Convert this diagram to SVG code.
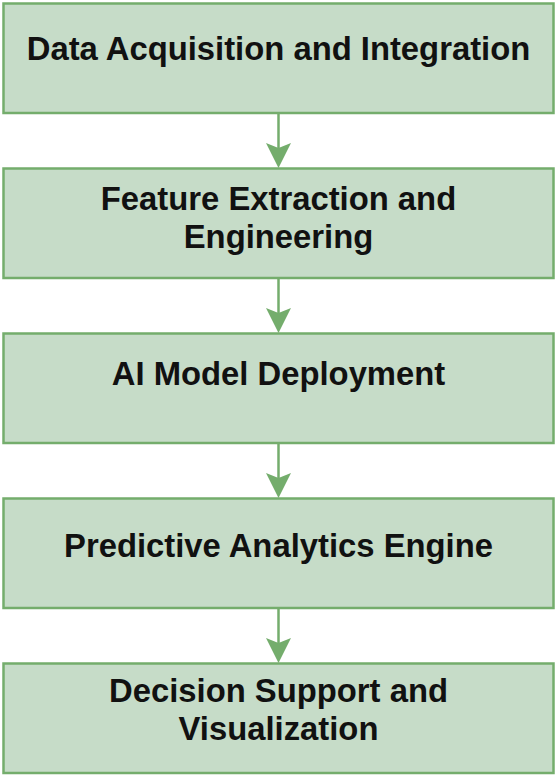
<svg xmlns="http://www.w3.org/2000/svg" width="557" height="778" viewBox="0 0 557 778">
<style>
.box{fill:#c6dcc8;stroke:#74ad6c;stroke-width:2.5}
.lbl{font-family:"Liberation Sans",Arial,sans-serif;font-weight:bold;font-size:32.8px;fill:#111;text-anchor:middle}
.con{stroke:#74ad6c;stroke-width:2.5;fill:none}
.head{fill:#74ad6c;stroke:none}
</style>
<rect width="557" height="778" fill="#ffffff"/>
<g id="connectors">
<line class="con" x1="278.5" y1="113" x2="278.5" y2="148"/>
<path class="head" d="M278.5,168 L266,143 L278.5,148 L291,143 Z"/>
<line class="con" x1="278.5" y1="278" x2="278.5" y2="313"/>
<path class="head" d="M278.5,333 L266,308 L278.5,313 L291,308 Z"/>
<line class="con" x1="278.5" y1="443" x2="278.5" y2="478"/>
<path class="head" d="M278.5,498 L266,473 L278.5,478 L291,473 Z"/>
<line class="con" x1="278.5" y1="608" x2="278.5" y2="643"/>
<path class="head" d="M278.5,663 L266,638 L278.5,643 L291,638 Z"/>
</g>
<g id="n1"><rect class="box" x="3.5" y="3.5" width="550" height="109.5"/><text class="lbl" x="278.5" y="60">Data Acquisition and Integration</text></g>
<g id="n2"><rect class="box" x="3.5" y="168.5" width="550" height="109.5"/><text class="lbl" x="278.5" y="210">Feature Extraction and</text><text class="lbl" x="278.5" y="248">Engineering</text></g>
<g id="n3"><rect class="box" x="3.5" y="333.5" width="550" height="109.5"/><text class="lbl" x="278.5" y="385">AI Model Deployment</text></g>
<g id="n4"><rect class="box" x="3.5" y="498.5" width="550" height="109.5"/><text class="lbl" x="278.5" y="557">Predictive Analytics Engine</text></g>
<g id="n5"><rect class="box" x="3.5" y="663.5" width="550" height="109.5"/><text class="lbl" x="278.5" y="702">Decision Support and</text><text class="lbl" x="278.5" y="740">Visualization</text></g>
</svg>
